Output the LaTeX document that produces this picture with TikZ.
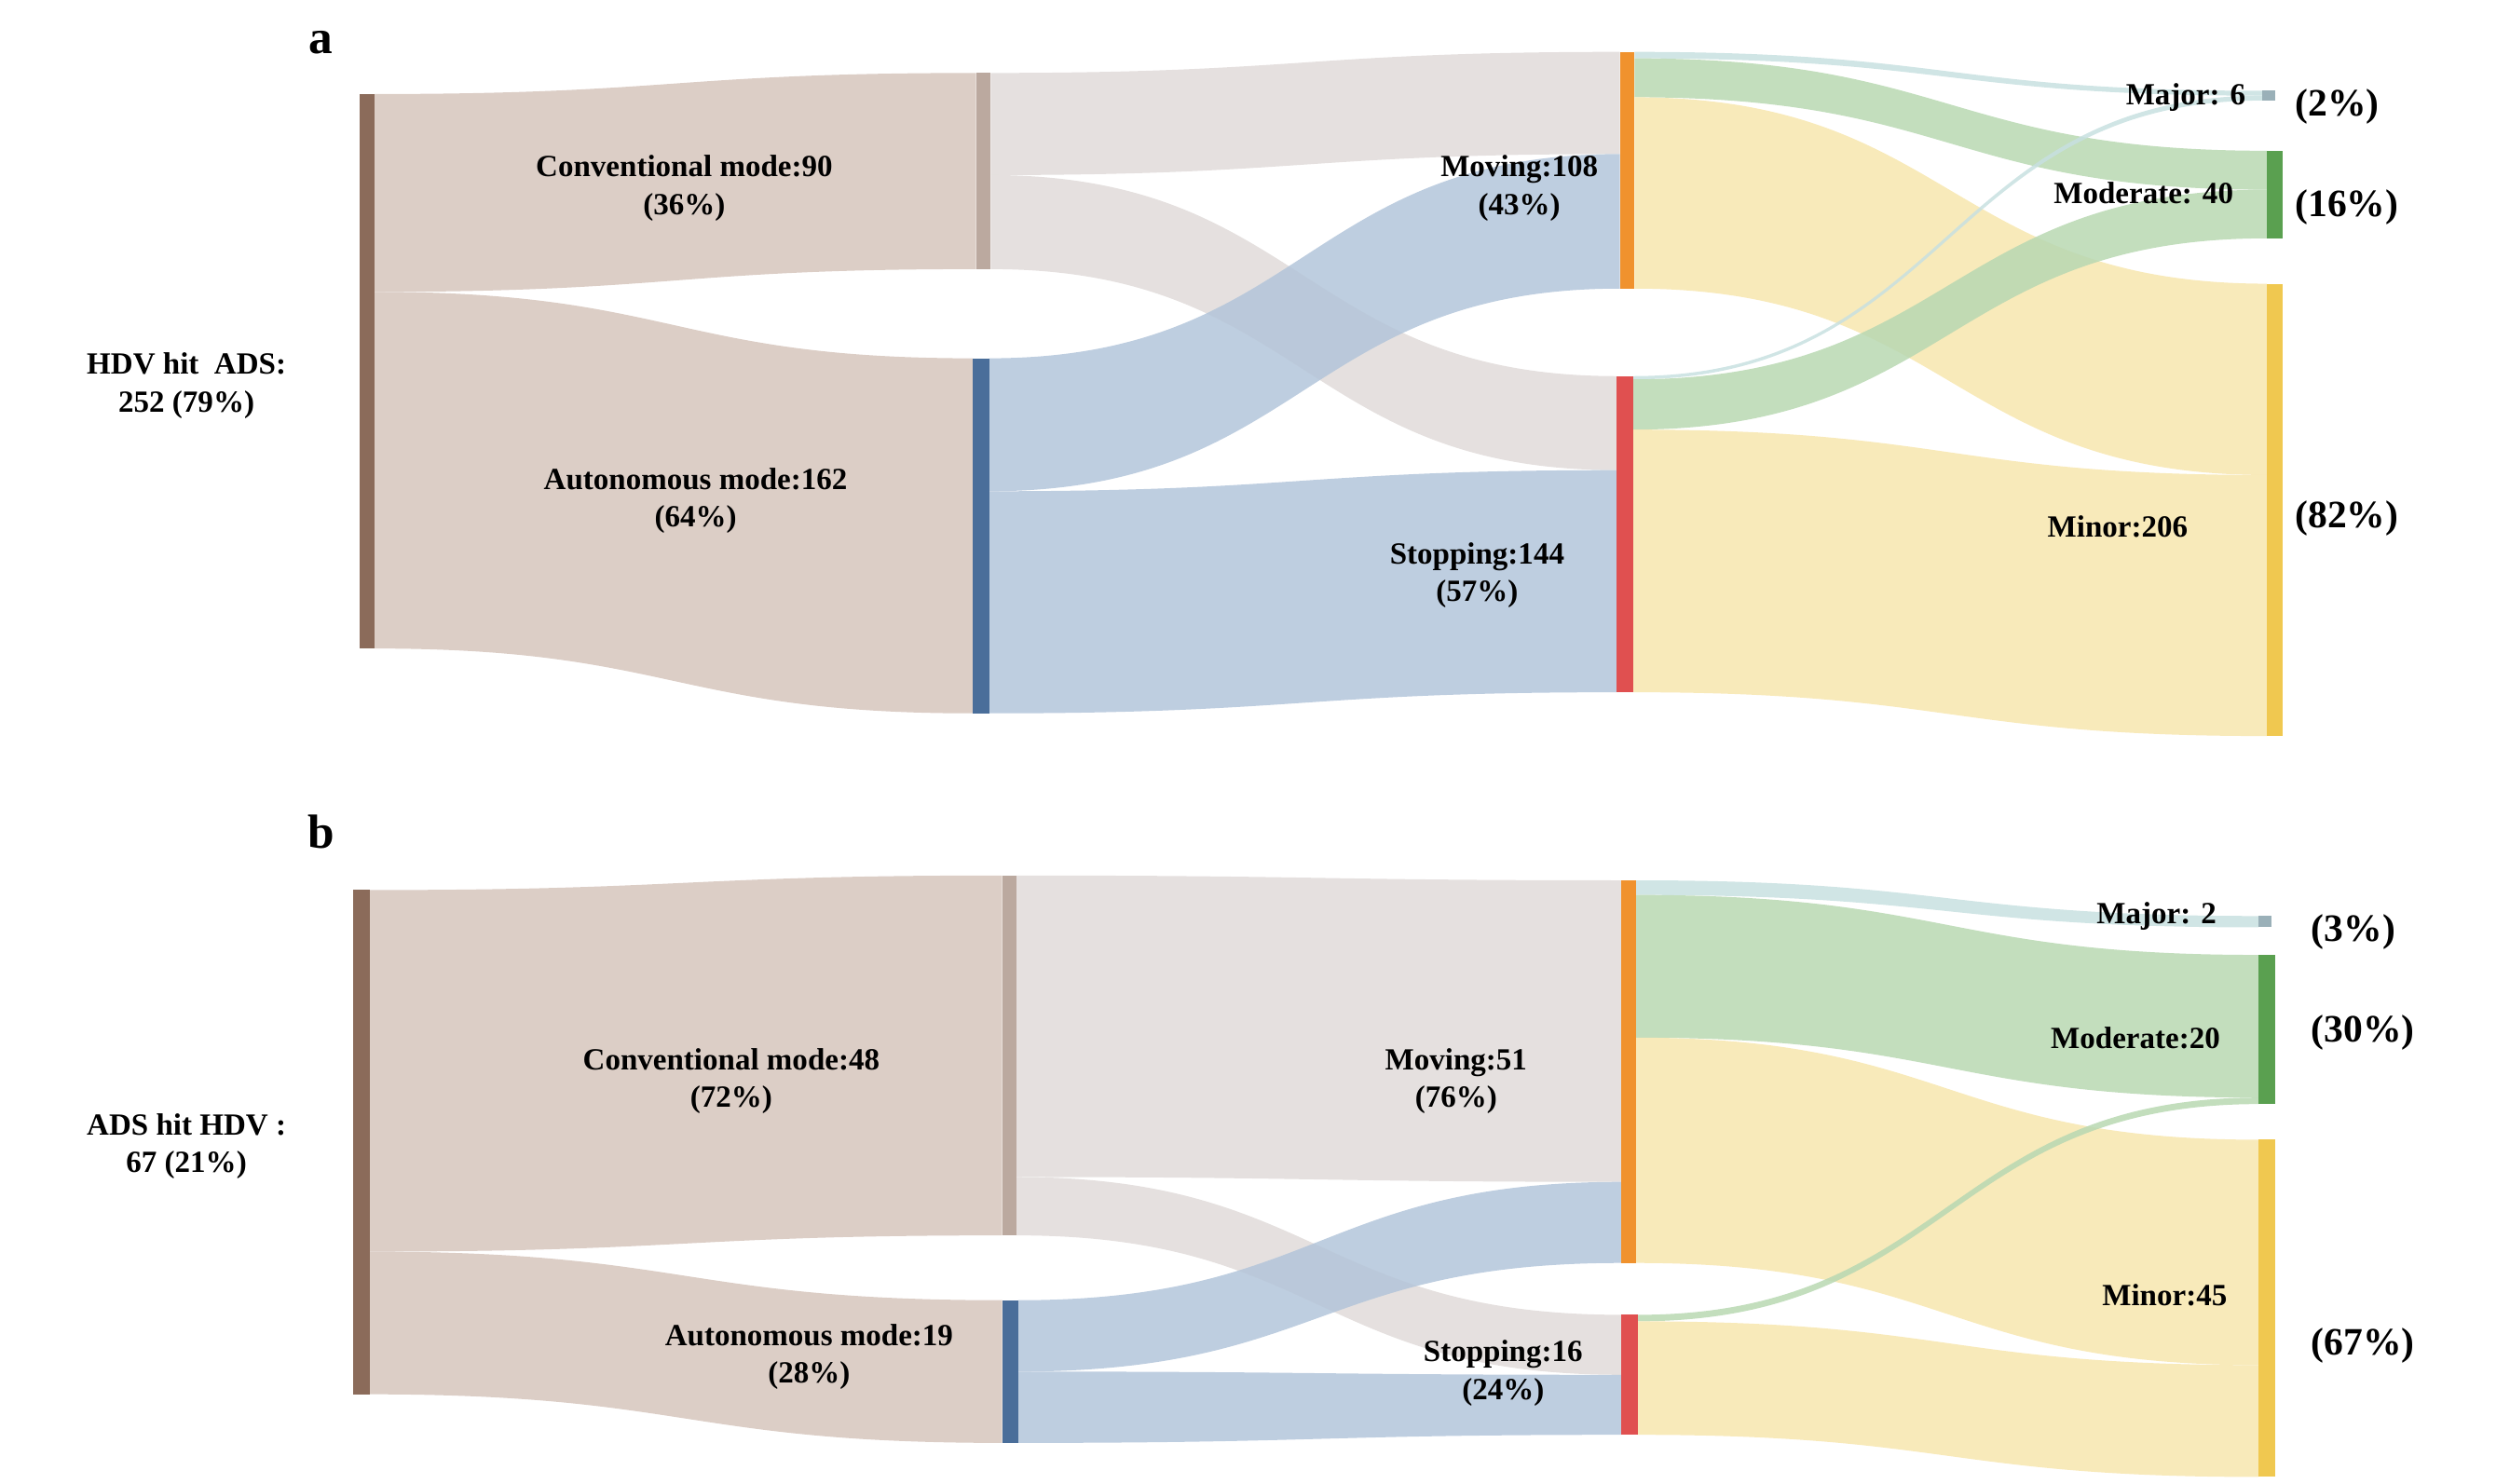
\documentclass[tikz,border=0pt]{standalone}
\usepackage{fontspec}
\setmainfont{Liberation Serif}
\begin{document}
\newcommand\myband[7]{%
 \pgfmathsetmacro\xm{(#1+#4)/2}%
 \fill[#7,opacity=0.85] (#1,#2) .. controls (\xm,#2) and (\xm,#5) .. (#4,#5) -- (#4,#6) .. controls (\xm,#6) and (\xm,#3) .. (#1,#3) -- cycle;}
\definecolor{srcbar}{HTML}{8B6B5A}\definecolor{srcband}{HTML}{D6C5BC}
\definecolor{convbar}{HTML}{BBA99F}\definecolor{convband}{HTML}{E0DBD9}
\definecolor{autobar}{HTML}{4A6E9A}\definecolor{autoband}{HTML}{B3C5DA}
\definecolor{movbar}{HTML}{F0922E}\definecolor{stopbar}{HTML}{E05050}
\definecolor{majband}{HTML}{C8E0E0}\definecolor{majbar}{HTML}{9AB0B8}
\definecolor{modband}{HTML}{B8D8B2}\definecolor{modbar}{HTML}{5AA050}
\definecolor{minband}{HTML}{F7E6AE}\definecolor{minbar}{HTML}{F0C850}
\begin{tikzpicture}[x=0.05cm,y=-0.05cm,
 lab/.style={font=\fontsize{27}{33}\selectfont\bfseries,align=center},
 pct/.style={font=\fontsize{34}{40}\selectfont\bfseries,anchor=west},
 panel/.style={font=\fontsize{42}{46}\selectfont\bfseries}]
\useasboundingbox (0,0) rectangle (1548,915);
% ---------- panel a ----------
\myband{231}{58}{180}{602}{45}{166}{srcband}
\myband{231}{180}{400}{600}{221}{440}{srcband}
\myband{611}{45}{108}{999}{32}{95}{convband}
\myband{611}{108}{166}{997}{232}{290}{convband}
\myband{610}{221}{303}{999}{95}{178}{autoband}
\myband{610}{303}{440}{997}{290}{427}{autoband}
\myband{1008}{32}{36}{1395}{56}{59}{majband}
\myband{1008}{36}{60}{1398}{93}{117}{modband}
\myband{1008}{60}{178}{1398}{175}{293}{minband}
\myband{1007}{232}{234}{1395}{59}{62}{majband}
\myband{1007}{234}{265}{1398}{117}{147}{modband}
\myband{1007}{265}{427}{1398}{293}{454}{minband}
\fill[srcbar] (222,58) rectangle (231,400);
\fill[convbar] (602,45) rectangle (611,166);
\fill[autobar] (600,221) rectangle (610,440);
\fill[movbar] (999,32) rectangle (1008,178);
\fill[stopbar] (997,232) rectangle (1007,427);
\fill[majbar] (1395,56) rectangle (1403,62);
\fill[modbar] (1398,93) rectangle (1408,147);
\fill[minbar] (1398,175) rectangle (1408,454);
\node[panel] (pa) at (198,26) {a};
\node[lab] (hdv) at (115,238) {HDV hit \ ADS:\\252 (79\%)};
\node[lab] (cva) at (422,116) {Conventional mode:90\\(36\%)};
\node[lab] (aua) at (429,309) {Autonomous mode:162\\(64\%)};
\node[lab] (mva) at (937,116) {Moving:108\\(43\%)};
\node[lab] (spa) at (911,355) {Stopping:144\\(57\%)};
\node[lab] (mja) at (1348,60) {Major: 6};
\node[lab] (mda) at (1322,119) {Moderate: 40};
\node[lab] (mna) at (1306,325) {Minor:206};
\node[pct] at (1413,66) {(2\%)};
\node[pct] at (1413,128) {(16\%)};
\node[pct] at (1413,320) {(82\%)};
% ---------- panel b ----------
\myband{228}{549}{772}{618}{540}{762}{srcband}
\myband{228}{772}{860}{618}{802}{890}{srcband}
\myband{627}{540}{726}{1000}{543}{729}{convband}
\myband{627}{726}{762}{1000}{811}{848}{convband}
\myband{628}{802}{846}{1000}{729}{779}{autoband}
\myband{628}{846}{890}{1000}{848}{885}{autoband}
\myband{1009}{543}{552}{1393}{565}{572}{majband}
\myband{1009}{552}{640}{1393}{589}{677}{modband}
\myband{1009}{640}{779}{1393}{703}{842}{minband}
\myband{1010}{811}{815}{1393}{677}{681}{modband}
\myband{1010}{815}{885}{1393}{842}{911}{minband}
\fill[srcbar] (218,549) rectangle (228,860);
\fill[convbar] (618,540) rectangle (627,762);
\fill[autobar] (618,802) rectangle (628,890);
\fill[movbar] (1000,543) rectangle (1009,779);
\fill[stopbar] (1000,811) rectangle (1010,885);
\fill[majbar] (1393,565) rectangle (1401,572);
\fill[modbar] (1393,589) rectangle (1403,681);
\fill[minbar] (1393,703) rectangle (1403,911);
\node[panel] (pb) at (198,513) {b};
\node[lab] (ads) at (115,707) {ADS hit HDV :\\67 (21\%)};
\node[lab] (cvb) at (451,667) {Conventional mode:48\\(72\%)};
\node[lab] (aub) at (499,837) {Autonomous mode:19\\(28\%)};
\node[lab] (mvb) at (898,667) {Moving:51\\(76\%)};
\node[lab] (spb) at (927,847) {Stopping:16\\(24\%)};
\node[lab] (mjb) at (1330,565) {Major: 2};
\node[lab] (mdb) at (1317,640) {Moderate:20};
\node[lab] (mnb) at (1335,799) {Minor:45};
\node[pct] at (1423,575) {(3\%)};
\node[pct] at (1423,637) {(30\%)};
\node[pct] at (1423,830) {(67\%)};
\end{tikzpicture}
\end{document}
